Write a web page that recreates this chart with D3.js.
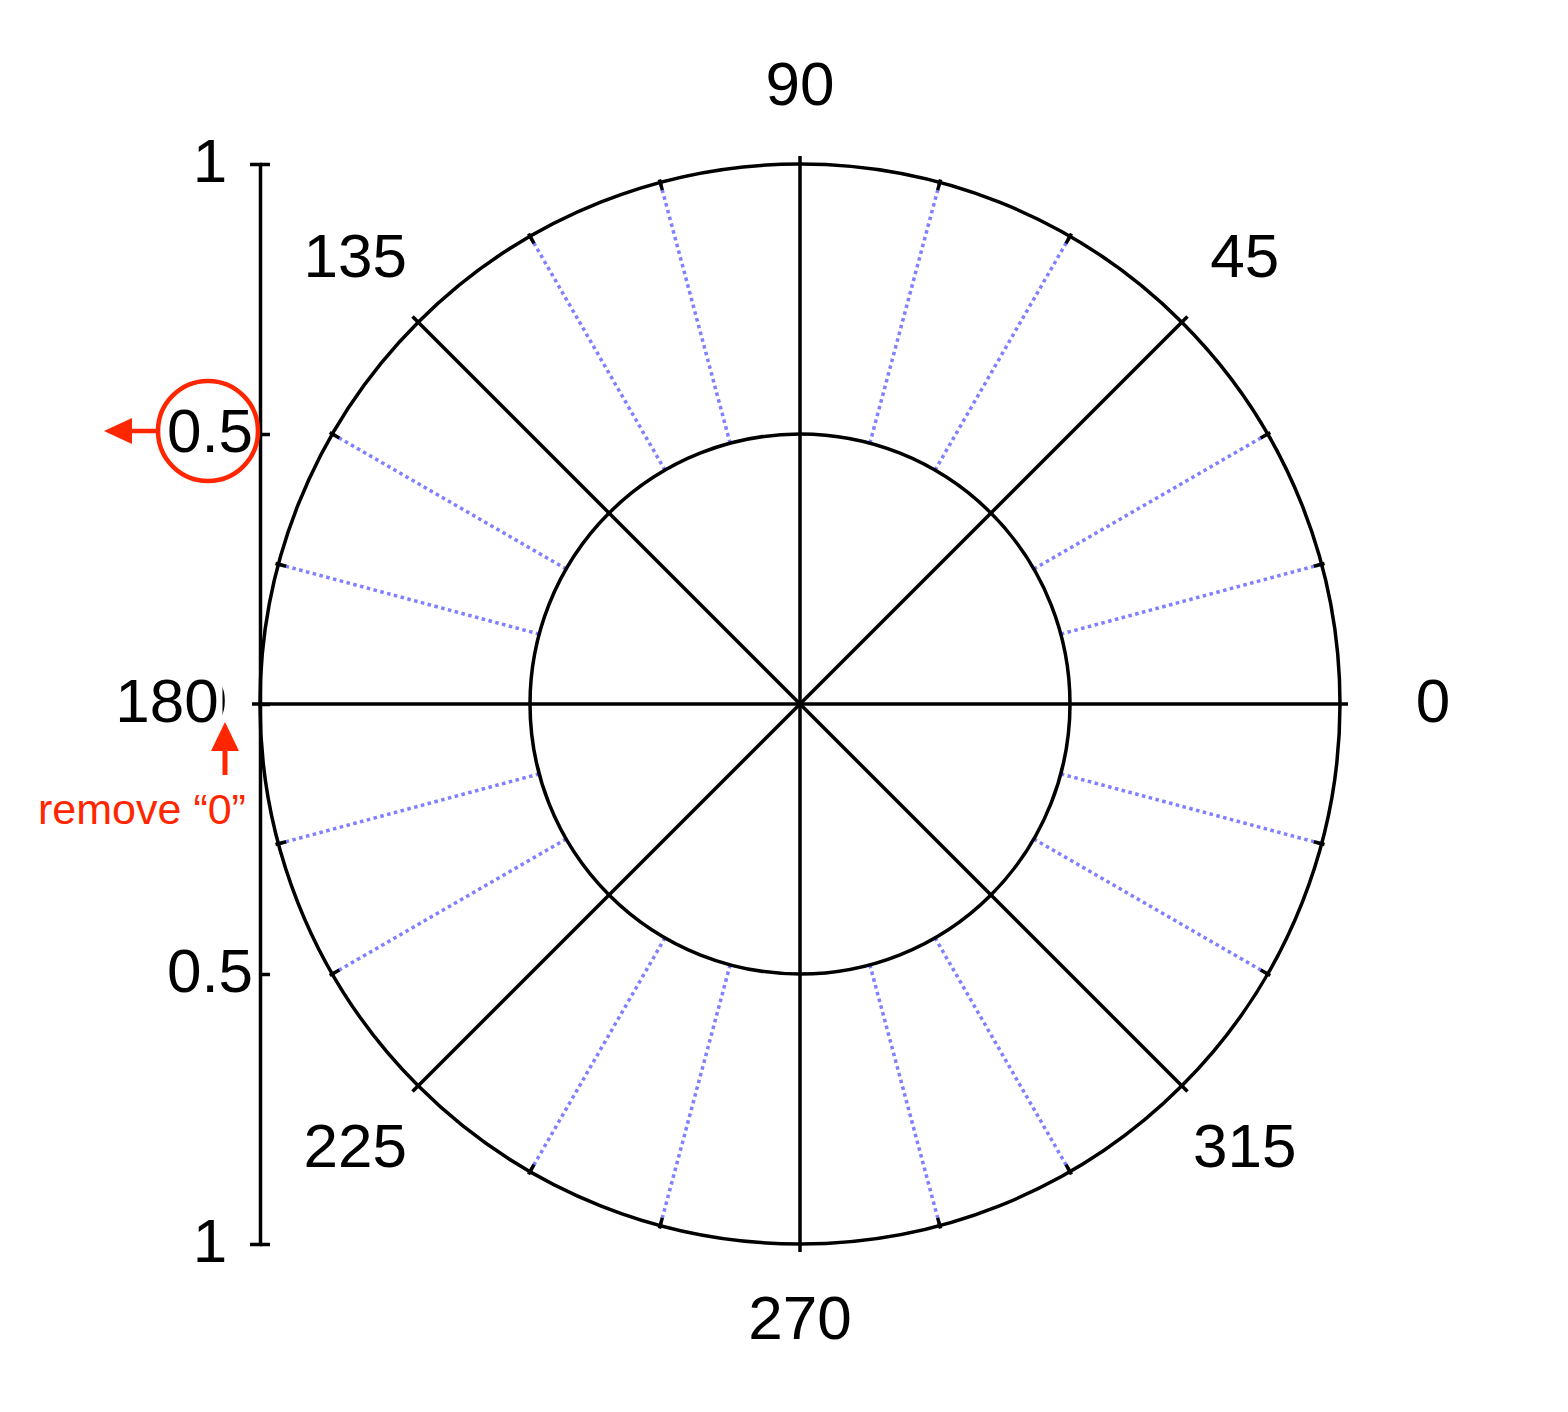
<!DOCTYPE html>
<html>
<head>
<meta charset="utf-8">
<script src="https://d3js.org/d3.v7.min.js"></script>
<style>
  body { margin: 0; background: #fff; }
  text { font-family: Helvetica, Arial, "Liberation Sans", sans-serif; }
</style>
</head>
<body>
<script>
// angles in degrees
var majorAngles = [0, 45, 90, 135, 180, 225, 270, 315];
var minorAngles = [15, 30, 60, 75, 105, 120, 150, 165, 195, 210, 240, 255, 285, 300, 330, 345];
var angleLabels = ["0", "45", "90", "135", "180", "225", "270", "315"];

// rings (radius values)
var ringValues = [0.5, 1];

// radial axis down the left side, mirrored
var radialTicks = [1, 0.5, 0, -0.5, -1];
var radialLabels = ["1", "0.5", "0", "0.5", "1"];

var width = 1568, height = 1412;
var cx = 800, cy = 704, R = 540;
var red = "#ff2600";
var lw = 3.5;

var svg = d3.select("body").append("svg")
    .attr("width", width)
    .attr("height", height);

var r = d3.scaleLinear().domain([0, 1]).range([0, R]);
var yAxisScale = d3.scaleLinear().domain([-1, 1]).range([cy + R, cy - R]);

function px(deg, rad) { return cx + rad * Math.cos(deg * Math.PI / 180); }
function py(deg, rad) { return cy - rad * Math.sin(deg * Math.PI / 180); }

var g = svg.append("g");

// dotted minor spokes from the inner ring out to the rim
g.selectAll(".minor")
    .data(minorAngles)
    .enter().append("line")
    .attr("x1", function(d) { return px(d, r(0.5)); })
    .attr("y1", function(d) { return py(d, r(0.5)); })
    .attr("x2", function(d) { return px(d, r(1)); })
    .attr("y2", function(d) { return py(d, r(1)); })
    .attr("stroke", "#7f7fff")
    .attr("stroke-width", 3.5)
    .attr("stroke-dasharray", "3.5,3.5");

// rings
g.selectAll(".ring")
    .data(ringValues)
    .enter().append("circle")
    .attr("cx", cx).attr("cy", cy)
    .attr("r", function(d) { return r(d); })
    .attr("fill", "none")
    .attr("stroke", "#000")
    .attr("stroke-width", lw);

// major spokes, running a bit past the rim
g.selectAll(".major")
    .data(majorAngles)
    .enter().append("line")
    .attr("x1", cx).attr("y1", cy)
    .attr("x2", function(d) { return px(d, r(1) + 8); })
    .attr("y2", function(d) { return py(d, r(1) + 8); })
    .attr("stroke", "#000")
    .attr("stroke-width", lw);

// small ticks on the rim at the minor angles
g.selectAll(".rimtick")
    .data(minorAngles)
    .enter().append("line")
    .attr("x1", function(d) { return px(d, r(1) - 8); })
    .attr("y1", function(d) { return py(d, r(1) - 8); })
    .attr("x2", function(d) { return px(d, r(1) + 3); })
    .attr("y2", function(d) { return py(d, r(1) + 3); })
    .attr("stroke", "#000")
    .attr("stroke-width", lw);

// angle labels - a little further out sideways than up/down
function labelRadius(deg) {
    var t = deg * Math.PI / 180;
    return 627 + 8 * Math.cos(2 * t) - 2 * Math.cos(4 * t);
}

g.selectAll(".alabel")
    .data(majorAngles)
    .enter().append("text")
    .attr("x", function(d) { return px(d, labelRadius(d)); })
    .attr("y", function(d) { return py(d, labelRadius(d)) - 4.5; })
    .attr("dy", "0.36em")
    .attr("text-anchor", "middle")
    .attr("font-size", 62)
    .attr("fill", "#000")
    .text(function(d, i) { return angleLabels[i]; });

// radial axis
var axis = d3.axisLeft(yAxisScale)
    .tickValues(radialTicks)
    .tickSizeInner(-10)
    .tickSizeOuter(10)
    .tickFormat(function(d, i) { return radialLabels[i]; });

var ax = svg.append("g")
    .attr("transform", "translate(" + (cx - R) + ",0)")
    .call(axis);

ax.select(".domain").attr("stroke-width", lw);
ax.selectAll(".tick line").attr("stroke-width", lw);
ax.selectAll(".tick text")
    .attr("x", -50)
    .attr("dy", "0.28em")
    .attr("text-anchor", "middle")
    .attr("font-size", 62)
    .attr("font-family", "Helvetica, Arial, 'Liberation Sans', sans-serif")
    .attr("fill", "#000");

// the "0" sits under "180"; only its right edge peeks out
svg.append("defs").append("clipPath")
    .attr("id", "zeroClip")
    .append("rect")
    .attr("x", -37.5).attr("y", -60)
    .attr("width", 40).attr("height", 120);

ax.selectAll(".tick")
    .filter(function(d) { return d === 0; })
    .select("text")
    .attr("clip-path", "url(#zeroClip)");

// annotation: circle round the upper 0.5 with an arrow pointing left
var note = svg.append("g");
var ny = yAxisScale(0.5) - 3;

note.append("circle")
    .attr("cx", 208).attr("cy", ny).attr("r", 50)
    .attr("fill", "none")
    .attr("stroke", red)
    .attr("stroke-width", 4.5);

note.append("line")
    .attr("x1", 158).attr("y1", ny)
    .attr("x2", 128).attr("y2", ny)
    .attr("stroke", red)
    .attr("stroke-width", 4.5);

note.append("path")
    .attr("d", "M104," + ny + "L132," + (ny - 13) + "L132," + (ny + 13) + "Z")
    .attr("fill", red);

// annotation: arrow up at the hidden "0"
var tipY = yAxisScale(0) + 18;
note.append("line")
    .attr("x1", 225).attr("y1", tipY + 25)
    .attr("x2", 225).attr("y2", tipY + 53)
    .attr("stroke", red)
    .attr("stroke-width", 5);

note.append("path")
    .attr("d", "M225," + tipY + "L239," + (tipY + 29) + "L211," + (tipY + 29) + "Z")
    .attr("fill", red);

note.append("text")
    .attr("x", 142).attr("y", 824)
    .attr("text-anchor", "middle")
    .attr("font-size", 43)
    .attr("fill", red)
    .text("remove \u201c0\u201d");
</script>
</body>
</html>
